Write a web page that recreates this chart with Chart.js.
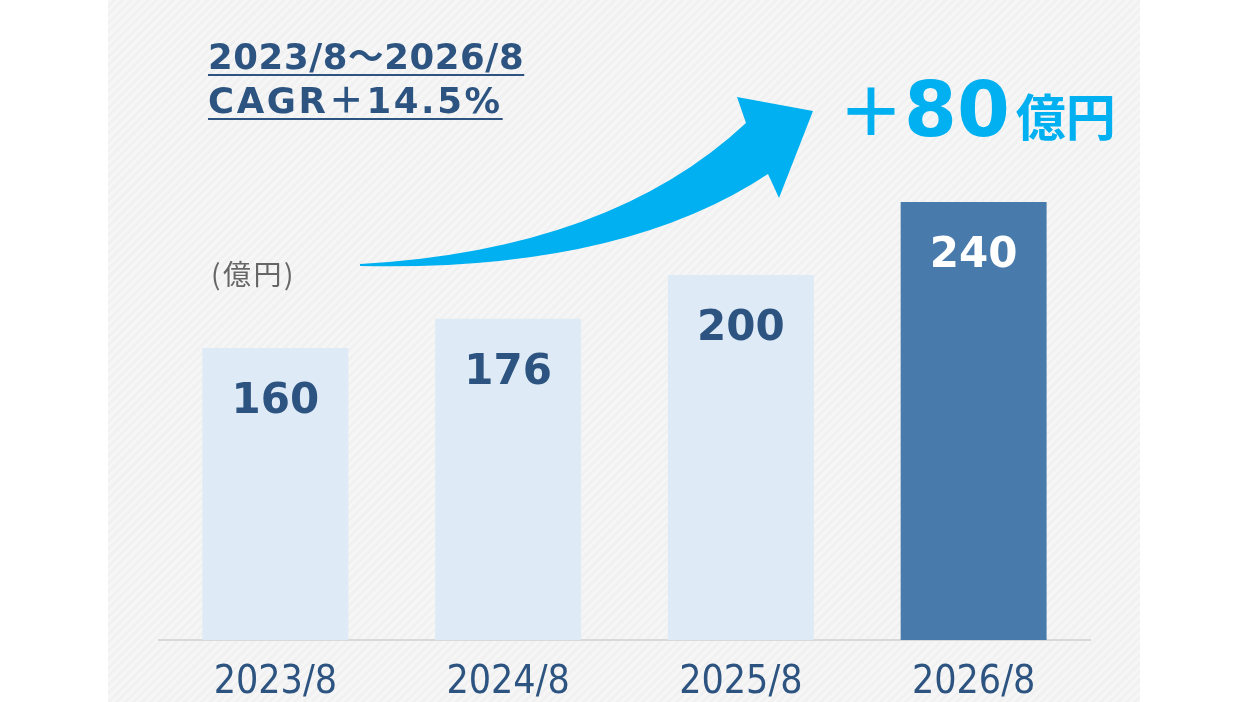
<!DOCTYPE html>
<html>
<head>
<meta charset="utf-8">
<script src="https://cdn.jsdelivr.net/npm/chart.js@4.4.4/dist/chart.umd.min.js"></script>
<style>
  html, body { margin: 0; padding: 0; background: #fff; }
  #wrap { position: relative; width: 1248px; height: 702px; overflow: hidden; }
  #panel {
    position: absolute; left: 108px; top: 0; width: 1032px; height: 702px;
    background: repeating-linear-gradient(135deg, #f6f6f6 0 3px, #f1f1f1 3px 6px);
  }
  #chart { position: absolute; left: 0; top: 0; }
  .note { position: absolute; white-space: nowrap; font-family: "DejaVu Sans", "Noto Sans CJK JP", sans-serif; }
  #cagr {
    left: 208px; top: 35px; color: #2d5480; font-weight: bold; font-size: 35.5px; line-height: 44px;
  }
  #cagr span { text-decoration: underline; text-decoration-thickness: 2px; text-underline-offset: 5px; }
  #cagr .l1 { letter-spacing: 0.6px; }
  #cagr .l2 { letter-spacing: 2.6px; }
  #unit { left: 211px; top: 253px; color: #666; font-size: 28px; letter-spacing: 2.5px; font-family: "Noto Sans CJK JP", sans-serif; }
  #plus {
    left: 838px; top: 62px; color: #00b0f0; font-weight: bold; line-height: 90px;
  }
  #plus .p { font-size: 66px; font-family: "Noto Sans CJK JP", sans-serif; }
  #plus .n { font-size: 76px; margin-right: 6px; }
  #plus .u { font-size: 50px; font-family: "Noto Sans CJK JP", sans-serif; }
</style>
</head>
<body>
<div id="wrap">
  <div id="panel"></div>
  <canvas id="chart" width="1248" height="702"></canvas>
  <div id="cagr" class="note"><span class="l1">2023/8～2026/8</span><br><span class="l2">CAGR＋14.5%</span></div>
  <div id="unit" class="note">(億円)</div>
  <div id="plus" class="note"><span class="p">＋</span><span class="n">80</span><span class="u">億円</span></div>
</div>
<script>
// sales by fiscal year end (億円)
const periods = ['2023/8', '2024/8', '2025/8', '2026/8'];
const sales = [160, 176, 200, 240];
const barColors = ['#deeaf6', '#deeaf6', '#deeaf6', '#487bab'];
const labelColors = ['#2d5480', '#2d5480', '#2d5480', '#ffffff'];

// value inside each bar, a bit below the top
const valueLabels = {
  id: 'valueLabels',
  afterDatasetsDraw(chart) {
    const ctx = chart.ctx;
    const meta = chart.getDatasetMeta(0);
    ctx.save();
    ctx.font = 'bold 42px "DejaVu Sans", sans-serif';
    ctx.textAlign = 'center';
    ctx.textBaseline = 'middle';
    meta.data.forEach((bar, i) => {
      ctx.fillStyle = labelColors[i];
      ctx.fillText(String(sales[i]), bar.x, bar.y + 54);
    });
    ctx.restore();
  }
};

// curved growth arrow from the unit label up to the "+80" note
const growthArrow = {
  id: 'growthArrow',
  afterDraw(chart) {
    const ctx = chart.ctx;
    ctx.save();
    ctx.fillStyle = '#00b0f0';
    ctx.beginPath();
    ctx.moveTo(360, 264);
    ctx.quadraticCurveTo(610, 250, 746, 123);
    ctx.lineTo(737, 97);
    ctx.lineTo(813, 111);
    ctx.lineTo(779, 198);
    ctx.lineTo(768, 174);
    ctx.quadraticCurveTo(620, 272, 360, 266);
    ctx.closePath();
    ctx.fill();
    ctx.restore();
  }
};

new Chart(document.getElementById('chart'), {
  type: 'bar',
  data: {
    labels: periods,
    datasets: [{
      data: sales,
      backgroundColor: barColors,
      borderWidth: 0,
      barPercentage: 0.627,
      categoryPercentage: 1
    }]
  },
  options: {
    responsive: false,
    animation: false,
    layout: { padding: { top: 92.5, left: 159, right: 158, bottom: 0 } },
    plugins: { legend: { display: false }, tooltip: { enabled: false } },
    scales: {
      x: {
        grid: { display: false, drawTicks: false },
        border: { display: true, color: '#d9d9d9', width: 2 },
        ticks: {
          color: '#2d5480', padding: 19,
          font: { family: '"DejaVu Sans Condensed", "DejaVu Sans", sans-serif', size: 39 }
        },
        afterFit: (s) => { s.height = 62; }
      },
      y: { display: false, min: 0, max: 300 }
    }
  },
  plugins: [valueLabels, growthArrow]
});
</script>
</body>
</html>
